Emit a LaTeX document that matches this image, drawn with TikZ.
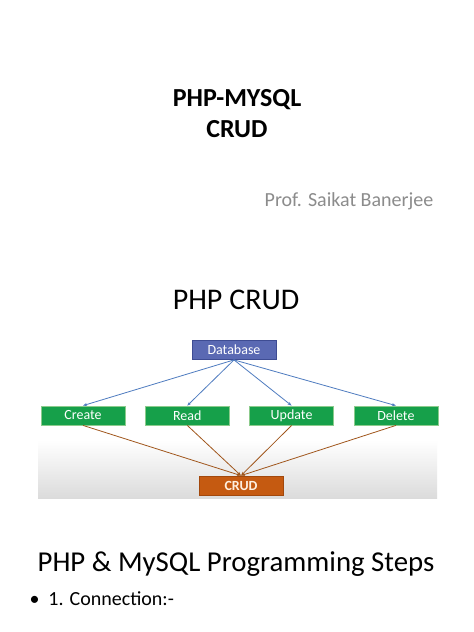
\documentclass[tikz,border=0pt]{standalone}
\usepackage{fontspec}
\setmainfont{Carlito}
\usetikzlibrary{positioning,arrows.meta}

\definecolor{dbblue}{HTML}{5A69B3}
\definecolor{dbedge}{HTML}{3E4C93}
\definecolor{opgreen}{HTML}{16A04A}
\definecolor{opedge}{HTML}{8CCB8C}
\definecolor{crudorange}{HTML}{C55A11}
\definecolor{crudedge}{HTML}{A2480C}
\definecolor{linkblue}{HTML}{4F7CC0}
\definecolor{linkbrown}{HTML}{A0561C}
\definecolor{authorgray}{HTML}{8C8C8C}

\begin{document}
\begin{tikzpicture}[
x=1pt,y=-1pt,
>={Stealth[length=4pt,width=3pt]},
box/.style={
draw,
line width=0.8pt,
minimum width=84pt,
minimum height=19pt,
inner sep=0pt,
text=white,
font=\fontsize{14}{14}\selectfont},
opbox/.style={box,fill=opgreen,draw=opedge},
blink/.style={->,linkblue,line width=0.8pt},
clink/.style={->,linkbrown,line width=0.8pt}
]

\useasboundingbox[fill=white] (0,0) rectangle (474,632);

% slide 1
\node (title) at (237,114) [align=center,font=\fontsize{26}{31}\selectfont\bfseries] {PHP-MYSQL\\CRUD};
\node (author) at (349,201) [text=authorgray,font=\fontsize{20}{20}\selectfont] {Prof. Saikat Banerjee};

% slide 2
\node (crudtitle) at (236,300) [font=\fontsize{30}{30}\selectfont] {PHP CRUD};
\shade[top color=white,bottom color=black!14] (38,440) rectangle (437,498);

\node (database) at (234,350) [box,fill=dbblue,draw=dbedge] {Database};

\node (create) at (83,415.5) [opbox] {Create};
\node (read) [opbox,right=19.5pt of create] {Read};
\node (update) [opbox,right=19.5pt of read] {Update};
\node (delete) [opbox,right=19.5pt of update] {Delete};

\node (crud) at (241,485.5) [box,fill=crudorange,draw=crudedge,text=white!88!orange] {\textbf{CRUD}};

\draw[blink] (database.south)--(create.north);
\draw[blink] (database.south)--(read.north);
\draw[blink] (database.south)--(update.north);
\draw[blink] (database.south)--(delete.north);

\draw[clink] (create.south)--(crud.north);
\draw[clink] (read.south)--(crud.north);
\draw[clink] (update.south)--(crud.north);
\draw[clink] (delete.south)--(crud.north);

% slide 3
\node (steps) at (236,564) [font=\fontsize{28.8}{29}\selectfont] {PHP \& MySQL Programming Steps};
\node (bullet) at (26,599) [anchor=west,font=\fontsize{20}{20}\selectfont] {\textbullet\hspace{9pt}1. Connection:-};

\end{tikzpicture}
\end{document}
